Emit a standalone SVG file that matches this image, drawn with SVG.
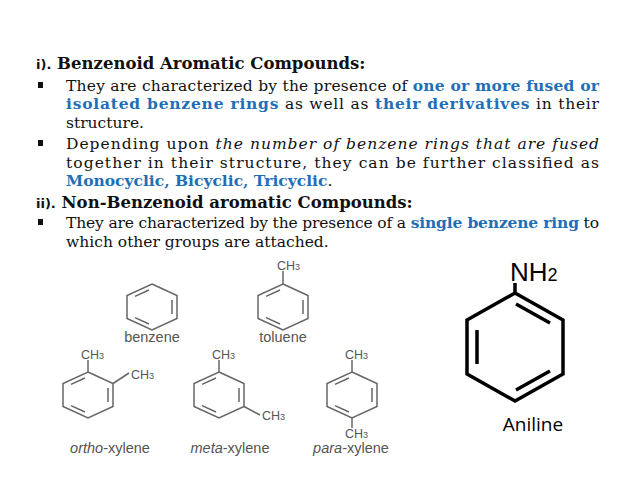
<svg xmlns="http://www.w3.org/2000/svg" width="638" height="493" viewBox="0 0 638 493">
<style>
.t{font-family:"DejaVu Serif","Liberation Serif",serif;font-size:15.5px;fill:#111}
.b{font-weight:bold;fill:#1f6fb5}
.h{font-family:"DejaVu Serif",serif;font-size:16.5px;font-weight:bold;fill:#111}
.r{font-family:"DejaVu Sans",sans-serif;font-size:13px;font-weight:bold}
.ch{font-family:"Liberation Sans",sans-serif;font-size:12.5px;fill:#555}
.lb{font-family:"Liberation Sans",sans-serif;font-size:14.5px;fill:#555;text-anchor:middle}
.ring{fill:none;stroke:#666;stroke-width:1.5}
.sub{font-size:9px}
</style>
<defs>
<g id="hex" class="ring">
<path d="M0,-23 L25,-11.5 L25,11.5 L0,23 L-25,11.5 L-25,-11.5 Z"/>
<path d="M20,-7 V7 M-17,-10.6 L-3,-17 M-17,10.6 L-3,17"/>
</g>
</defs>
<rect width="638" height="493" fill="#fff"/>
<g id="text">
<text x="36" y="69" class="h"><tspan class="r">i).</tspan> Benzenoid Aromatic Compounds:</text>
<rect x="38" y="82" width="5" height="6" fill="#111"/>
<text x="66" y="91" class="t" textLength="533" lengthAdjust="spacing">They are characterized by the presence of <tspan class="b">one or more fused or</tspan></text>
<text x="66" y="109" class="t" textLength="533" lengthAdjust="spacing"><tspan class="b">isolated benzene rings</tspan> as well as <tspan class="b">their derivatives</tspan> in their</text>
<text x="66" y="128" class="t">structure.</text>
<rect x="38" y="140" width="5" height="6" fill="#111"/>
<text x="66" y="149" class="t" textLength="533" lengthAdjust="spacing">Depending upon <tspan font-style="italic">the number of benzene rings that are fused</tspan></text>
<text x="66" y="168" class="t" textLength="533" lengthAdjust="spacing">together in their structure, they can be further classified as</text>
<text x="66" y="186" class="t"><tspan class="b">Monocyclic, Bicyclic, Tricyclic</tspan>.</text>
<text x="36" y="208" class="h"><tspan class="r">ii).</tspan> Non-Benzenoid aromatic Compounds:</text>
<rect x="38" y="219" width="5" height="6" fill="#111"/>
<text x="66" y="228" class="t" textLength="533" lengthAdjust="spacing">They are characterized by the presence of a <tspan class="b">single benzene ring</tspan> to</text>
<text x="66" y="247" class="t">which other groups are attached.</text>
</g>
<g id="benzene"><use href="#hex" x="152" y="307"/><text x="152" y="342" class="lb">benzene</text></g>
<g id="toluene"><use href="#hex" x="283" y="307"/><path d="M283,284 V271" class="ring"/><text x="277" y="270" class="ch">CH<tspan class="sub">3</tspan></text><text x="283" y="342" class="lb">toluene</text></g>
<g id="ortho"><use href="#hex" x="88" y="395"/><path d="M88,372 V360" class="ring"/><path d="M113,383.5 L129,373" class="ring"/><text x="81" y="359" class="ch">CH<tspan class="sub">3</tspan></text><text x="131" y="379" class="ch">CH<tspan class="sub">3</tspan></text><text x="110" y="453" class="lb"><tspan font-style="italic">ortho</tspan>-xylene</text></g>
<g id="meta"><use href="#hex" x="219" y="395"/><path d="M219,372 V360" class="ring"/><path d="M244,406.5 L260,415" class="ring"/><text x="212" y="359" class="ch">CH<tspan class="sub">3</tspan></text><text x="262" y="420" class="ch">CH<tspan class="sub">3</tspan></text><text x="230" y="453" class="lb"><tspan font-style="italic">meta</tspan>-xylene</text></g>
<g id="para"><use href="#hex" x="352" y="395"/><path d="M352,372 V360" class="ring"/><path d="M352,418 V428" class="ring"/><text x="345" y="359" class="ch">CH<tspan class="sub">3</tspan></text><text x="345" y="438" class="ch">CH<tspan class="sub">3</tspan></text><text x="351" y="453" class="lb"><tspan font-style="italic">para</tspan>-xylene</text></g>
<g id="aniline" fill="none" stroke="#000" stroke-width="3.5">
<path d="M515,293 L563,320 L563,374 L515,401 L467,374 L467,320 Z"/>
<path d="M477,330 V364 M516,304 L550,323 M516,390 L550,371"/>
<path d="M515,293 V283"/>
<text x="510" y="281" font-family="Liberation Sans,sans-serif" font-size="26" fill="#000" stroke="none">NH<tspan font-size="18">2</tspan></text>
<text x="533" y="431" font-family="Open Sans,sans-serif" font-size="19" fill="#000" stroke="none" text-anchor="middle">Aniline</text>
</g>
</svg>
